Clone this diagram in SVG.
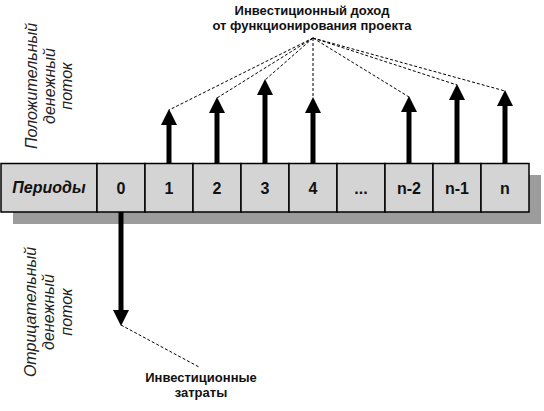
<svg xmlns="http://www.w3.org/2000/svg" width="544" height="411" viewBox="0 0 544 411">
<style>
.cell{fill:#d4d4d4;stroke:#000;stroke-width:1.5}
.ct{font-family:"Liberation Sans",Arial,sans-serif;font-size:16px;font-weight:bold;text-anchor:middle;fill:#111}
.lbl{font-family:"Liberation Sans",Arial,sans-serif;font-size:13px;font-weight:bold;text-anchor:middle;fill:#111}
.side{font-family:"Liberation Sans",Arial,sans-serif;font-size:16px;font-style:italic;text-anchor:middle;fill:#222}
.arr{stroke:#000;stroke-width:5;fill:none}
.dash{stroke:#000;stroke-width:1;stroke-dasharray:3,2;fill:none}
</style>
<defs>
<marker id="head" markerUnits="userSpaceOnUse" markerWidth="16" markerHeight="16" viewBox="0 0 15 15" refX="0" refY="7.5" orient="auto">
<path d="M0,0 L15,7.5 L0,15 z" fill="#000"/>
</marker>
</defs>
<rect x="13" y="175" width="528" height="49" fill="#9c9c9c"/>
<g id="periods">
<rect class="cell" x="1" y="163.5" width="96" height="48.5"/>
<text class="ct" x="49" y="193" font-style="italic" font-size="15">Периоды</text>
</g>
<g id="p0"><rect class="cell" x="97" y="163.5" width="48" height="48.5"/><text class="ct" x="121" y="194">0</text></g>
<g id="p1"><rect class="cell" x="145" y="163.5" width="48" height="48.5"/><text class="ct" x="169" y="194">1</text></g>
<g id="p2"><rect class="cell" x="193" y="163.5" width="48" height="48.5"/><text class="ct" x="217" y="194">2</text></g>
<g id="p3"><rect class="cell" x="241" y="163.5" width="48" height="48.5"/><text class="ct" x="265" y="194">3</text></g>
<g id="p4"><rect class="cell" x="289" y="163.5" width="48" height="48.5"/><text class="ct" x="313" y="194">4</text></g>
<g id="pdots"><rect class="cell" x="337" y="163.5" width="48" height="48.5"/><text class="ct" x="361" y="194">...</text></g>
<g id="pn2"><rect class="cell" x="385" y="163.5" width="48" height="48.5"/><text class="ct" x="409" y="194">n-2</text></g>
<g id="pn1"><rect class="cell" x="433" y="163.5" width="48" height="48.5"/><text class="ct" x="457" y="194">n-1</text></g>
<g id="pn"><rect class="cell" x="481" y="163.5" width="48" height="48.5"/><text class="ct" x="505" y="194">n</text></g>
<g id="connectors">
<line class="arr" x1="169" y1="163" x2="169" y2="125" marker-end="url(#head)"/>
<line class="arr" x1="217" y1="163" x2="217" y2="113" marker-end="url(#head)"/>
<line class="arr" x1="265" y1="163" x2="265" y2="95" marker-end="url(#head)"/>
<line class="arr" x1="313" y1="163" x2="313" y2="113" marker-end="url(#head)"/>
<line class="arr" x1="409" y1="163" x2="409" y2="112" marker-end="url(#head)"/>
<line class="arr" x1="457" y1="163" x2="457" y2="100" marker-end="url(#head)"/>
<line class="arr" x1="505" y1="163" x2="505" y2="106" marker-end="url(#head)"/>
<line class="arr" x1="121" y1="212" x2="121" y2="310" marker-end="url(#head)"/>
<path class="dash" d="M313,38 L169,110 M313,38 L217,98 M313,38 L265,80 M313,38 L313,98 M313,38 L409,97 M313,38 L457,85 M313,38 L505,91"/>
<path class="dash" d="M121,325 L199,367"/>
</g>
<g id="income-label">
<text class="lbl" x="312" y="15">Инвестиционный доход</text>
<text class="lbl" x="312" y="30">от функционирования проекта</text>
</g>
<g id="cost-label">
<text class="lbl" x="201" y="382">Инвестиционные</text>
<text class="lbl" x="201" y="397">затраты</text>
</g>
<g id="positive-label" transform="translate(0,86) rotate(-90)">
<text class="side" x="0" y="37">Положительный</text>
<text class="side" x="0" y="55">денежный</text>
<text class="side" x="0" y="72">поток</text>
</g>
<g id="negative-label" transform="translate(0,312) rotate(-90)">
<text class="side" x="0" y="36">Отрицательный</text>
<text class="side" x="0" y="54">денежный</text>
<text class="side" x="0" y="72">поток</text>
</g>
</svg>
